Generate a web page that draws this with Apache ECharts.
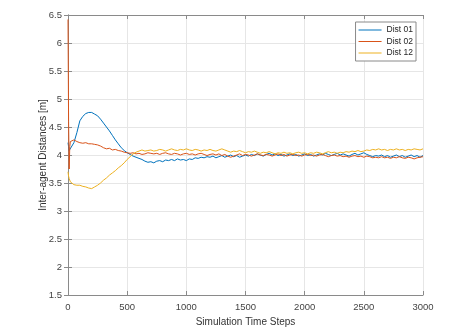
<!DOCTYPE html>
<html>
<head>
<meta charset="utf-8">
<script src="https://cdn.jsdelivr.net/npm/echarts@6/dist/echarts.min.js"></script>
<style>html,body{margin:0;padding:0;background:#fff}#c{width:474px;height:335px}</style>
</head>
<body>
<div id="c"></div>
<script>
const seriesNames = ['Dist 01', 'Dist 02', 'Dist 12'];
const xTickLabels = [0, 500, 1000, 1500, 2000, 2500, 3000];
const yTickLabels = [1.5, 2, 2.5, 3, 3.5, 4, 4.5, 5, 5.5, 6, 6.5];

const steps = [0, 5, 10, 15, 20,
  25, 50, 75, 100, 125, 150, 175, 200,
  225, 250, 275, 300, 325, 350, 375, 400,
  425, 450, 475, 500, 525, 550, 575, 600,
  625, 650, 675, 700, 725, 750, 775, 800,
  825, 850, 875, 900, 925, 950, 975, 1000,
  1025, 1050, 1075, 1100, 1125, 1150, 1175, 1200,
  1225, 1250, 1275, 1300, 1325, 1350, 1375, 1400,
  1425, 1450, 1475, 1500, 1525, 1550, 1575, 1600,
  1625, 1650, 1675, 1700, 1725, 1750, 1775, 1800,
  1825, 1850, 1875, 1900, 1925, 1950, 1975, 2000,
  2025, 2050, 2075, 2100, 2125, 2150, 2175, 2200,
  2225, 2250, 2275, 2300, 2325, 2350, 2375, 2400,
  2425, 2450, 2475, 2500, 2525, 2550, 2575, 2600,
  2625, 2650, 2675, 2700, 2725, 2750, 2775, 2800,
  2825, 2850, 2875, 2900, 2925, 2950, 2975, 3000];

const dist01 = [4.22, 4.15, 4.08, 4.05, 4.06,
  4.08, 4.22, 4.40, 4.61, 4.69, 4.74, 4.76, 4.76,
  4.73, 4.70, 4.64, 4.57, 4.50, 4.43, 4.35, 4.27,
  4.20, 4.13, 4.08, 4.04, 4.01, 3.98, 3.96, 3.94,
  3.92, 3.89, 3.87, 3.88, 3.86, 3.89, 3.90, 3.88,
  3.91, 3.90, 3.92, 3.90, 3.93, 3.91, 3.92, 3.90,
  3.93, 3.92, 3.95, 3.94, 3.96, 3.95, 3.97, 3.96,
  3.98, 3.95, 3.97, 3.99, 3.96, 3.98, 4.00, 3.97,
  3.99, 3.96, 3.98, 4.00, 3.98, 4.01, 3.99, 4.02,
  4.00, 3.98, 4.01, 4.03, 4.00, 4.02, 3.99, 4.01,
  3.98, 4.00, 4.02, 3.99, 4.01, 3.98, 4.00, 4.02,
  3.99, 4.01, 3.98, 4.00, 4.02, 4.00, 4.03, 4.01,
  3.99, 4.01, 4.03, 4.00, 4.02, 4.00, 3.98, 4.01,
  4.03, 4.00, 4.02, 4.04, 4.01, 3.99, 3.97, 3.99,
  3.98, 4.00, 3.97, 3.99, 3.96, 3.98, 4.00, 3.97,
  3.99, 3.96, 3.98, 4.00, 3.97, 3.99, 3.96, 3.99];

const dist02 = [6.42, 4.60, 3.75, 4.15, 4.24,
  4.26, 4.27, 4.24, 4.22, 4.21, 4.22, 4.20, 4.20,
  4.19, 4.18, 4.16, 4.13, 4.11, 4.12, 4.09, 4.10,
  4.08, 4.07, 4.05, 4.04, 4.03, 4.04, 4.02, 4.03,
  4.01, 4.02, 4.04, 4.03, 4.02, 4.03, 4.01, 4.03,
  4.04, 4.02, 4.01, 4.03, 4.02, 4.00, 4.02, 4.03,
  4.01, 4.02, 4.00, 4.02, 4.03, 4.01, 3.99, 4.01,
  4.02, 4.00, 4.02, 3.99, 4.01, 3.98, 3.96, 3.98,
  4.00, 4.02, 3.99, 4.01, 4.00, 3.98, 4.00, 4.02,
  4.00, 3.99, 4.01, 4.00, 3.98, 4.00, 4.02, 3.99,
  4.01, 3.98, 4.00, 4.01, 3.99, 4.00, 3.98, 4.00,
  4.01, 3.99, 4.00, 3.98, 4.00, 4.01, 3.99, 3.97,
  3.99, 4.00, 3.98, 3.99, 3.97, 3.98, 3.96, 3.98,
  3.99, 3.97, 3.98, 3.96, 3.98, 3.97, 3.95, 3.96,
  3.95, 3.97, 3.95, 3.96, 3.94, 3.96, 3.95, 3.97,
  3.95, 3.94, 3.96, 3.95, 3.93, 3.95, 3.96, 3.97];

const dist12 = [3.70, 3.62, 3.58, 3.55, 3.52,
  3.50, 3.47, 3.46, 3.46, 3.44, 3.43, 3.41, 3.40,
  3.43, 3.46, 3.50, 3.55, 3.59, 3.64, 3.68, 3.72,
  3.77, 3.81, 3.86, 3.92, 3.97, 4.02, 4.05, 4.07,
  4.09, 4.07, 4.08, 4.09, 4.07, 4.08, 4.10, 4.09,
  4.07, 4.09, 4.11, 4.09, 4.08, 4.10, 4.09, 4.11,
  4.09, 4.08, 4.10, 4.09, 4.07, 4.09, 4.08, 4.10,
  4.08, 4.07, 4.09, 4.11, 4.09, 4.07, 4.05, 4.07,
  4.06, 4.08, 4.06, 4.04, 4.06, 4.05, 4.07, 4.05,
  4.03, 4.05, 4.04, 4.06, 4.04, 4.02, 4.04, 4.03,
  4.05, 4.03, 4.04, 4.02, 4.04, 4.05, 4.03, 4.04,
  4.02, 4.04, 4.03, 4.05, 4.04, 4.02, 4.04, 4.06,
  4.04, 4.05, 4.03, 4.05, 4.04, 4.06, 4.05, 4.07,
  4.06, 4.08, 4.06, 4.07, 4.09, 4.08, 4.10, 4.09,
  4.11, 4.09, 4.10, 4.08, 4.10, 4.09, 4.11, 4.09,
  4.10, 4.08, 4.10, 4.09, 4.11, 4.10, 4.09, 4.11];

const colors = ['#0072BD', '#D95319', '#EDB120'];
const font = 'Liberation Sans, Arial, sans-serif';

function pairs(ys) { return steps.map((t, i) => [t, ys[i]]); }

const chart = echarts.init(document.getElementById('c'), null, {renderer: 'canvas'});
const axisCommon = {
  axisLine: {show: true, lineStyle: {color: '#8a8a8a', width: 1}},
  axisTick: {show: true, inside: true, length: 4, lineStyle: {color: '#8a8a8a'}},
};
chart.setOption({
  animation: false,
  backgroundColor: '#fff',
  grid: {left: 68, right: 51, top: 15, bottom: 40, containLabel: false},
  legend: {
    data: seriesNames.map((n, i) => ({name: n, icon: 'rect', itemStyle: {color: colors[i]}})),
    orient: 'vertical',
    right: 58, top: 22,
    backgroundColor: '#fff',
    borderColor: '#8a8a8a', borderWidth: 1,
    padding: [3, 3, 3, 3],
    itemGap: 1.5,
    itemWidth: 23, itemHeight: 1,
    textStyle: {fontSize: 8.5, color: '#262626', fontFamily: font, lineHeight: 10}
  },
  xAxis: [{
    type: 'value', min: 0, max: 3000, interval: 500,
    name: 'Simulation Time Steps', nameLocation: 'middle', nameGap: 18,
    nameTextStyle: {fontSize: 10, color: '#333', fontFamily: font},
    axisLabel: {fontSize: 9.5, color: '#444', fontFamily: font, margin: 7,
      formatter: v => xTickLabels.includes(v) ? String(v) : ''},
    splitLine: {show: true, lineStyle: {color: '#e6e6e6', width: 1}},
    ...axisCommon
  }, {
    type: 'value', min: 0, max: 3000, interval: 500, position: 'top',
    axisLabel: {show: false}, splitLine: {show: false},
    ...axisCommon
  }],
  yAxis: [{
    type: 'value', min: 1.5, max: 6.5, interval: 0.5,
    name: 'Inter-agent Distances [m]', nameLocation: 'middle', nameGap: 20,
    nameMoveOverlap: false,
    nameTextStyle: {fontSize: 10, color: '#333', fontFamily: font},
    axisLabel: {fontSize: 9.5, color: '#444', fontFamily: font, margin: 6,
      formatter: v => yTickLabels.includes(v) ? String(v) : ''},
    splitLine: {show: true, lineStyle: {color: '#e6e6e6', width: 1}},
    ...axisCommon
  }, {
    type: 'value', min: 1.5, max: 6.5, interval: 0.5, position: 'right',
    axisLabel: {show: false}, splitLine: {show: false},
    ...axisCommon
  }],
  series: [dist01, dist02, dist12].map((ys, i) => ({
    name: seriesNames[i],
    type: 'line',
    data: pairs(ys),
    symbol: 'none', showSymbol: false,
    lineStyle: {color: colors[i], width: 1},
    itemStyle: {color: colors[i]},
    z: 2 + i
  }))
});
</script>
</body>
</html>
